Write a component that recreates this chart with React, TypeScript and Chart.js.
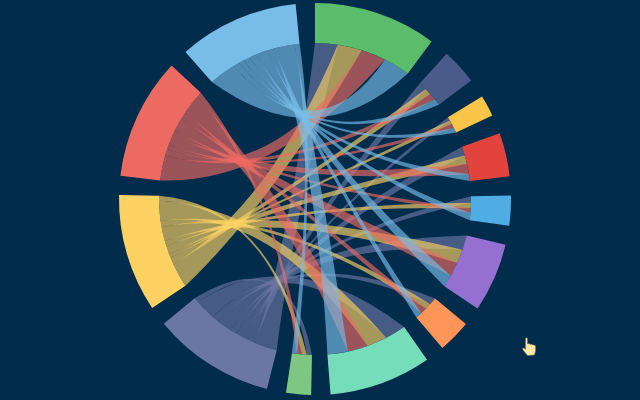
import React, { useEffect, useRef } from "react";
import { Chart, registerables } from "chart.js";

Chart.register(...registerables);

const sources = ["Slate", "Amber", "Coral", "Sky"];
const targets = ["Green", "Navy", "Gold", "Red", "Blue", "Purple", "Orange", "Mint", "Leaf"];

const slateFlows = [8.4, 3.0, 1.3, 3.4, 2.4, 5.5, 2.7, 7.7, 1.9];
const amberFlows = [9.1, 2.5, 1.5, 3.1, 2.0, 5.2, 2.3, 7.5, 1.8];
const coralFlows = [9.2, 2.6, 1.7, 3.9, 1.7, 5.3, 2.4, 7.5, 1.8];
const skyFlows = [9.8, 2.5, 1.8, 2.5, 2.7, 4.5, 2.4, 7.6, 1.9];
const flows = [slateFlows, amberFlows, coralFlows, skyFlows];

const targetColors = ["#5BBD6B", "#4A5A8A", "#F9C548", "#E2433C", "#4FADE3", "#9570D0", "#FF9558", "#76DDBB", "#7EC783"];
const sourceColors = ["#6B77A3", "#FDD262", "#EC6A62", "#78BDE8"];

// bend point of each source's ribbons: angle (deg, clockwise from top) and fraction of the inner radius
const bendAngles = [211.4, 262.4, 289.3, 2.8];
const bendRadii = [0.308, 0.291, 0.272, 0.263];

const GAP = 5.68;
const BG = "#012C4B";
const RIBBON_ALPHA = 0.65;

const targetTotals = targets.map((_, t) => flows.reduce((s, row) => s + row[t], 0));
const sourceTotals = flows.map((row) => row.reduce((s, v) => s + v, 0));
const arcValues = [...targetTotals, ...sourceTotals];
const arcColors = [...targetColors, ...sourceColors];
const sliceData: number[] = [];
const sliceColors: string[] = [];
const sliceLabels: string[] = [];
arcValues.forEach((v, i) => {
  sliceData.push(v, GAP);
  sliceColors.push(arcColors[i], "rgba(0,0,0,0)");
  sliceLabels.push([...targets, ...sources][i], "");
});

function hexA(hex: string, a: number) {
  const n = parseInt(hex.slice(1), 16);
  return `rgba(${(n >> 16) & 255},${(n >> 8) & 255},${n & 255},${a})`;
}

const ribbons = {
  id: "ribbons",
  beforeDatasetsDraw(chart: any) {
    const ctx = chart.ctx as CanvasRenderingContext2D;
    const arcs = chart.getDatasetMeta(0).data;
    const first = arcs[0];
    const { x: cx, y: cy, innerRadius: r } = first;
    const pt = (a: number) => [cx + r * Math.cos(a), cy + r * Math.sin(a)];
    const targetArcs = targets.map((_, t) => arcs[t * 2]);
    const sourceArcs = sources.map((_, s) => arcs[(targets.length + s) * 2]);
    const scale = (first.endAngle - first.startAngle) / targetTotals[0];

    const targetPos = targetArcs.map((a: any) => a.startAngle);
    flows.forEach((row, s) => {
      let srcPos = sourceArcs[s].startAngle;
      const ba = ((bendAngles[s] - 90) * Math.PI) / 180;
      const bx = cx + bendRadii[s] * r * Math.cos(ba);
      const by = cy + bendRadii[s] * r * Math.sin(ba);
      ctx.fillStyle = hexA(sourceColors[s], RIBBON_ALPHA);
      row.forEach((v, t) => {
        const a0 = srcPos;
        const a1 = a0 + v * scale;
        const b0 = targetPos[t];
        const b1 = b0 + v * scale;
        srcPos = a1;
        targetPos[t] = b1;
        const [ax, ay] = pt(a0);
        const [ex, ey] = pt(b0);
        ctx.beginPath();
        ctx.moveTo(ax, ay);
        ctx.arc(cx, cy, r, a0, a1);
        ctx.quadraticCurveTo(bx, by, ex, ey);
        ctx.arc(cx, cy, r, b0, b1);
        ctx.quadraticCurveTo(bx, by, ax, ay);
        ctx.closePath();
        ctx.fill();
      });
    });
  },
};

export default function App() {
  const ref = useRef<HTMLCanvasElement>(null);
  useEffect(() => {
    document.body.style.margin = "0";
    const chart = new Chart(ref.current!, {
      type: "doughnut",
      data: {
        labels: sliceLabels,
        datasets: [{ data: sliceData, backgroundColor: sliceColors, borderWidth: 0, hoverOffset: 0 }],
      },
      options: {
        responsive: false,
        animation: false,
        rotation: 0,
        cutout: "79.6%",
        layout: { padding: { left: 119, right: 129, top: 3, bottom: 5 } },
        plugins: { legend: { display: false }, tooltip: { enabled: false } },
      },
      plugins: [ribbons],
    } as any);
    return () => chart.destroy();
  }, []);
  return (
    <div style={{ position: "relative", width: 640, height: 400, background: BG, overflow: "hidden" }}>
      <canvas ref={ref} width={640} height={400} style={{ display: "block" }} />
      <svg width="16" height="21" viewBox="0 0 16 21" style={{ position: "absolute", left: 522, top: 337 }}>
        <path
          d="M3.5 1.5 Q4.5 0 5.5 1.5 L5.5 7 L7.5 6.5 L8 7.5 L10 7 L10.5 8 L12.5 8 L13.5 9 L13.5 14 L12.5 18 L5.5 18.5 L1 13 L0.5 11.5 L2 11 L3.5 12.5 Z"
          fill="#FDE8A6"
          stroke="#7A6A4A"
          strokeWidth="0.5"
        />
      </svg>
    </div>
  );
}
